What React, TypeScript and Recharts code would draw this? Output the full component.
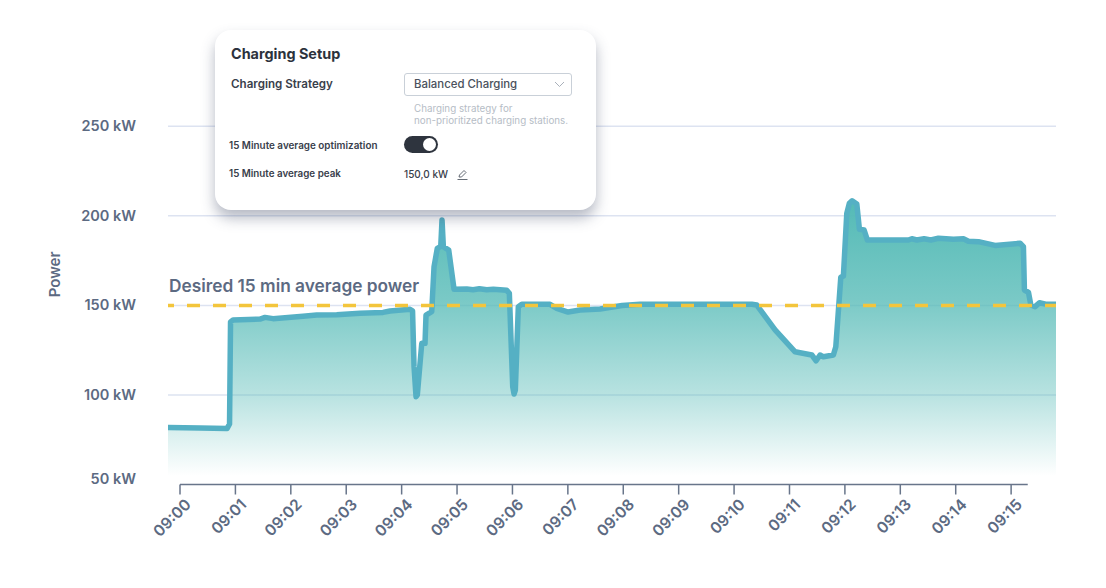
import React from 'react';
import { AreaChart, Area, XAxis, YAxis, CartesianGrid, ReferenceLine } from 'recharts';

const minutes = [-0.217,0.361,0.848,0.894,0.912,0.957,1.444,1.534,1.679,2.22,2.468,2.829,3.249,3.664,3.791,4.152,4.197,4.224,4.26,4.283,4.363,4.422,4.44,4.543,4.585,4.644,4.706,4.729,4.753,4.85,4.946,5.175,5.289,5.403,5.536,5.655,5.897,5.944,6.005,6.029,6.052,6.106,6.168,6.679,6.8,7.004,7.22,7.581,7.978,8.303,10.32,10.41,10.74,11.101,11.191,11.403,11.48,11.552,11.612,11.792,11.836,11.926,11.973,12.034,12.081,12.13,12.215,12.262,12.347,12.406,13.146,13.208,13.298,13.43,13.551,13.688,13.959,14.139,14.229,14.41,14.711,15.162,15.222,15.24,15.313,15.356,15.433,15.511,15.644,15.812];
const powerKw = [81.8,81.6,81.2,83.8,140.8,141.8,142.4,143.3,142.6,143.9,144.6,144.8,145.6,146.1,146.9,147.8,147,115.8,99,100,128.8,128.8,144.6,146.5,171.6,181.9,183,197.7,182.8,180.9,159,159.1,158.7,159.3,158.7,159,158.4,156.7,104.6,100.5,102.7,149.3,150.6,150.6,148.4,146.3,147.4,148,149.9,150.6,150.6,150.2,136.3,124.1,123.6,122.3,119.1,122.3,121.3,122.3,126.9,165.7,166.4,201.4,207,208.4,206.6,192.5,192.1,186.5,186.5,187.2,186.5,187.2,186.5,187.5,186.9,187.2,185.8,185.6,183.5,184.7,182.8,158.6,157.3,150.2,149.3,151.5,150.6,150.6];
const yTicks = [50, 100, 150, 200, 250];
const gridValues = [100, 150, 200, 250];
const xTicks = [0,1,2,3,4,5,6,7,8,9,10,11,12,13,14,15];
const xLabels = ['09:00','09:01','09:02','09:03','09:04','09:05','09:06','09:07','09:08','09:09','09:10','09:11','09:12','09:13','09:14','09:15'];
const desiredKw = 150;
const axisEnd = 15.3;
const data = minutes.map((m, i) => ({ minute: m, power: powerKw[i] }));

const FONT = 'Inter, Lato, sans-serif';
const SLATE = '#5c6a82';

const XTick = (p: any) => (
  <text x={p.x + 12} y={p.y + 9} textAnchor="end" fontFamily={FONT} fontSize={15.5} fontWeight={600} fill={SLATE}
    transform={`rotate(-45 ${p.x + 12} ${p.y + 9})`}>
    {xLabels[xTicks.indexOf(p.payload.value)]}
  </text>
);
const YTick = (p: any) => (
  <text x={136} y={p.y + (p.payload.value === 50 ? -1 : 5)} textAnchor="end" fontFamily={FONT} fontSize={14.5} fontWeight={600} fill={SLATE}>
    {p.payload.value} kW
  </text>
);

const txt = (left: number, top: number, size: number, weight: number, color: string, s: string) => (
  <div style={{ position: 'absolute', left, top, fontSize: size, fontWeight: weight, color, whiteSpace: 'nowrap', lineHeight: '16px', transform: 'translateY(-50%)' }}>{s}</div>
);

export default function App() {
  return (
    <div style={{ position: 'absolute', left: 0, top: 0, width: 1106, height: 588, background: '#fff', overflow: 'hidden', fontFamily: FONT }}>
      <AreaChart width={1106} height={588} data={data} margin={{ top: 126.3, right: 50, bottom: 43.5, left: 0 }}>
        <defs>
          <linearGradient id="fade" x1="0" y1="0" x2="0" y2="1">
            <stop offset="0%" stopColor="#54bab6" stopOpacity={1} />
            <stop offset="35%" stopColor="#54bab6" stopOpacity={0.78} />
            <stop offset="68%" stopColor="#54bab6" stopOpacity={0.42} />
            <stop offset="97%" stopColor="#54bab6" stopOpacity={0} />
          </linearGradient>
        </defs>
        <CartesianGrid vertical={false} horizontalValues={gridValues} stroke="#dde3f1" strokeWidth={1.5} />
        <XAxis dataKey="minute" type="number" domain={[-0.2166, 15.81]} ticks={xTicks} interval={0} axisLine={false}
          tickLine={{ stroke: '#68758a', strokeWidth: 1.5 }} tickSize={10} tick={<XTick />} height={60} allowDataOverflow />
        <YAxis type="number" domain={[50, 250]} ticks={yTicks} width={168} axisLine={false} tickLine={false} tick={<YTick />}
          label={{ value: 'Power', angle: -90, position: 'insideLeft', dx: 50, dy: -31, style: { fontFamily: FONT, fontSize: 15, fontWeight: 600, fill: SLATE, textAnchor: 'middle' } }} />
        <Area dataKey="power" type="linear" stroke="#55b0c4" strokeWidth={5.5} strokeLinejoin="round" fill="url(#fade)" fillOpacity={1} isAnimationActive={false} dot={false} activeDot={false} />
        <ReferenceLine y={desiredKw} stroke="#f3c53c" strokeWidth={3.5} strokeDasharray="13 13" strokeDashoffset={7}
          label={{ value: 'Desired 15 min average power', position: 'insideBottomLeft', dx: -4, dy: -8, style: { fontFamily: FONT, fontSize: 17.3, fontWeight: 600, fill: SLATE } }} />
        <ReferenceLine segment={[{ x: 0, y: 50 }, { x: axisEnd, y: 50 }]} stroke="#68758a" strokeWidth={1.5} ifOverflow="visible" />
      </AreaChart>

      <div style={{ position: 'absolute', left: 215, top: 30, width: 381, height: 180, background: '#fff', borderRadius: 16, boxShadow: '0 8px 14px rgba(60,70,100,0.38)' }} />
      {txt(231, 53.5, 14.4, 700, '#2c323c', 'Charging Setup')}
      {txt(231, 84, 11.6, 600, '#39404b', 'Charging Strategy')}
      <div style={{ position: 'absolute', left: 404, top: 73, width: 166, height: 21, border: '1px solid #c9d0d8', borderRadius: 3 }} />
      {txt(414, 84, 11.4, 500, '#4a515c', 'Balanced Charging')}
      <svg style={{ position: 'absolute', left: 554, top: 81 }} width={11} height={7}><path d="M1 1 L5.5 5.5 L10 1" fill="none" stroke="#a9b0ba" strokeWidth={1} /></svg>
      {txt(414, 108.5, 9.8, 400, '#b6bdc6', 'Charging strategy for')}
      {txt(414, 120.5, 9.8, 400, '#b6bdc6', 'non-prioritized charging stations.')}
      {txt(229, 145, 9.9, 600, '#39404b', '15 Minute average optimization')}
      <div style={{ position: 'absolute', left: 404, top: 136, width: 34, height: 17, background: '#2e343e', borderRadius: 9 }}>
        <div style={{ position: 'absolute', right: 2, top: 2, width: 13, height: 13, background: '#fff', borderRadius: '50%' }} />
      </div>
      {txt(229, 174, 9.8, 600, '#39404b', '15 Minute average peak')}
      {txt(404, 174, 10, 500, '#39404b', '150,0 kW')}
      <svg style={{ position: 'absolute', left: 457, top: 169 }} width={11} height={11}><path d="M2 8 L2.5 6 L7 1.5 L9 3.5 L4.5 8 Z M0.5 10.5 H10.5" fill="none" stroke="#555c67" strokeWidth={0.9} /></svg>
    </div>
  );
}
